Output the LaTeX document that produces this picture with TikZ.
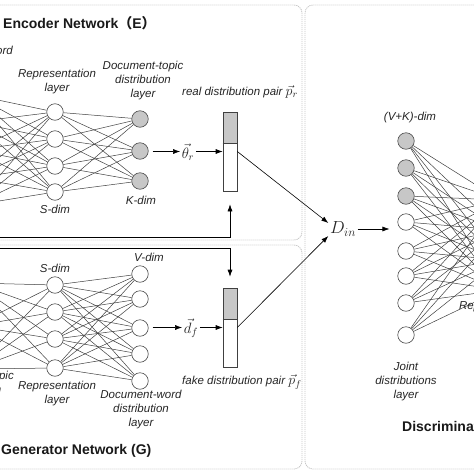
\RequirePackage{fix-cm}
\documentclass[tikz,border=0pt]{standalone}
\usepackage{fontspec}
\setmainfont{Liberation Sans}
\newfontfamily\cjkfont{Noto Sans CJK SC}
\usetikzlibrary{arrows.meta}
\tikzset{
  neuron/.style={circle, draw=black!70, line width=0.6pt, minimum size=16.5pt, inner sep=0pt, fill=white},
  gneuron/.style={neuron, fill=black!22},
  link/.style={draw=black!75, line width=0.5pt},
  lbl/.style={font=\fontsize{11.5}{14}\selectfont\itshape, text=black!85, align=center, inner sep=0pt},
  ttl/.style={font=\fontsize{14}{16}\selectfont\bfseries, text=black!90, inner sep=0pt, anchor=west},
  arr/.style={-{Latex[length=7pt,width=5pt]}, line width=0.6pt, draw=black},
  panel/.style={draw=black!22, line width=0.8pt, dash pattern=on 1.2pt off 0.8pt, rounded corners=8pt},
  vecbox/.style={draw=black!75, line width=0.6pt, minimum width=14pt, minimum height=79pt, inner sep=0pt},
  mth/.style={font=\fontsize{15}{17}\selectfont, inner sep=1.5pt, text=black!85},
  bigmth/.style={font=\fontsize{17.5}{19}\selectfont, inner sep=1.5pt, text=black!85}
}
\newcommand{\pvec}[1]{{\upshape\fontsize{14}{15}\selectfont$\vec{p}_{#1}$}}
\begin{document}
\begin{tikzpicture}[x=1pt,y=-1pt]
\useasboundingbox (0,0) rectangle (474,474);
\clip (0,0) rectangle (474,474);
\fill[white] (0,0) rectangle (474,474);
% panels
\draw[panel] (-40,5) rectangle (302,240);
\draw[panel] (-40,245) rectangle (302,469);
\draw[panel] (305,5) rectangle (560,469);
% box fills
\fill[black!22] (223,112) rectangle (237,143);
\fill[black!22] (223,288) rectangle (237,319);
% ---------- Encoder ----------
\foreach \i/\y in {1/95,2/122,3/150,4/178,5/205} \node[neuron] (ein\i) at (-26,\y) {};
\foreach \i/\y in {1/112,2/139,3/166,4/192} \node[neuron] (er\i) at (55,\y) {};
\foreach \i/\y in {1/119,2/151,3/181} \node[gneuron] (et\i) at (140,\y) {};
\foreach \a in {1,...,5} \foreach \b in {1,...,4} \draw[link] (ein\a) -- (er\b);
\foreach \a in {1,...,4} \foreach \b in {1,...,3} \draw[link] (er\a) -- (et\b);
\node[vecbox] (ebox) at (230,151.5) {};
\draw[black!75, line width=0.6pt] (ebox.west |- 0,143) -- (ebox.east |- 0,143);
\node[mth] (thr) at (188,152) {$\vec{\theta}_r$};
\draw[arr] ([xshift=4pt]et2.east |- ebox.west) -- (thr.west |- ebox.west);
\draw[arr] (thr.east |- ebox.west) -- (ebox.west);
\coordinate (efb) at (-60,237);
\draw[arr] (efb) -| ([yshift=-13pt]ebox.south);
\node[ttl] (etitle) at (3,23) {Encoder Network{\cjkfont （}E{\cjkfont ）}};
\node[lbl, anchor=east] (einl) at (13,66) {Document-word\\distribution\\layer};
\node[lbl] (erl) at (57,82) {Representation\\layer};
\node[lbl] (etl) at (143,81) {Document-topic\\distribution\\layer};
\node[lbl] (esd) at (55,209) {S-dim};
\node[lbl] (ekd) at (141,200) {K-dim};
\node[lbl, anchor=west] (ereal) at (182,92) {real distribution pair \pvec{r}};
% ---------- Generator ----------
\foreach \i/\y in {1/283,2/326,3/369} \node[gneuron] (gin\i) at (-26,\y) {};
\foreach \i/\y in {1/285,2/312,3/339,4/368} \node[neuron] (gr\i) at (55,\y) {};
\foreach \i/\y in {1/274,2/299,3/328,4/354,5/381} \node[neuron] (gv\i) at (140,\y) {};
\foreach \a in {1,...,3} \foreach \b in {1,...,4} \draw[link] (gin\a) -- (gr\b);
\foreach \a in {1,...,4} \foreach \b in {1,...,5} \draw[link] (gr\a) -- (gv\b);
\node[vecbox] (gbox) at (230,327.5) {};
\draw[black!75, line width=0.6pt] (gbox.west |- 0,319) -- (gbox.east |- 0,319);
\node[mth] (df) at (191,328) {$\vec{d}_f$};
\draw[arr] ([xshift=4pt]gv3.east |- gbox.west) -- (df.west |- gbox.west);
\draw[arr] (df.east |- gbox.west) -- (gbox.west);
\coordinate (gfb) at (-60,248);
\draw[arr] (gfb) -| ([yshift=11pt]gbox.north);
\node[ttl] (gtitle) at (1,451) {Generator Network (G)};
\node[lbl, anchor=east] (ginl) at (14,391) {Document-topic\\distribution\\layer};
\node[lbl] (gsd) at (55,268) {S-dim};
\node[lbl] (gvd) at (149,257) {V-dim};
\node[lbl] (grl) at (57,394) {Representation\\layer};
\node[lbl] (gvl) at (141,410) {Document-word\\distribution\\layer};
\node[lbl, anchor=west] (gfake) at (182,382) {fake distribution pair \pvec{f}};
% ---------- Discriminator ----------
\node[bigmth] (din) at (343,229) {$D_{in}$};
\draw[arr] (ebox.east) -- ([yshift=6pt]din.west);
\draw[arr] (gbox.east) -- ([yshift=-7pt]din.west);
\foreach \i/\y in {1/141,2/168,3/196} \node[gneuron] (dj\i) at (406,\y) {};
\foreach \i/\y in {4/222,5/251,6/276,7/303,8/335} \node[neuron] (dj\i) at (406,\y) {};
\foreach \i/\y in {1/200,2/230,3/260,4/290} \node[neuron] (dh\i) at (500,\y) {};
\foreach \a in {1,...,8} \foreach \b in {1,...,4} \draw[link] (dj\a) -- (dh\b);
\draw[arr, shorten >=8pt] (din.east) -- (dj4.west |- din.east);
\node[lbl] (djd) at (410,118) {(V+K)-dim};
\node[lbl] (djl) at (406,382) {Joint\\distributions\\layer};
\node[lbl] (dhl) at (498,314) {Representation\\layer};
\node[ttl] (dtitle) at (402,428) {Discriminator Network (D)};
\end{tikzpicture}
\end{document}
